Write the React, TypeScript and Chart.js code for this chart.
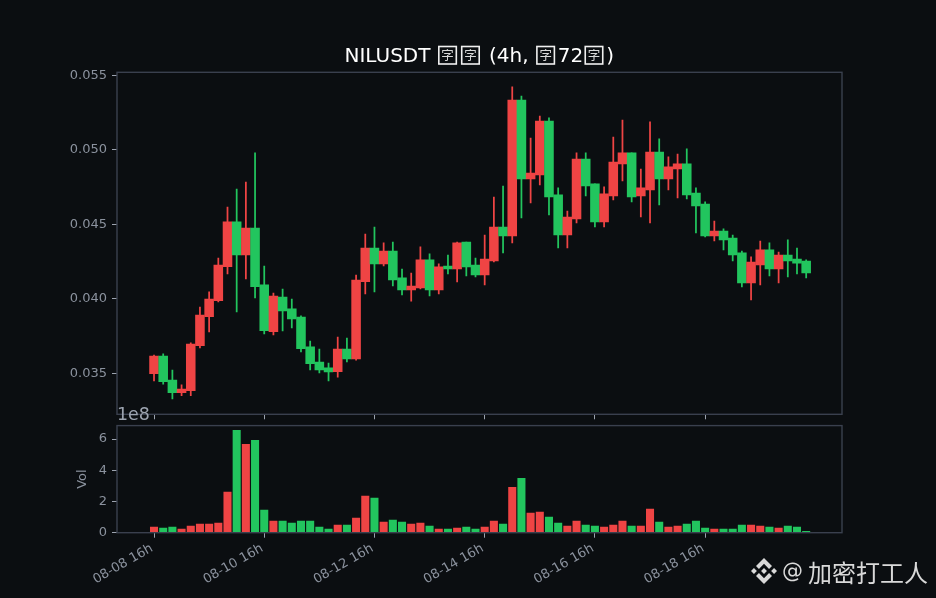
import React, { useEffect, useRef } from "react";
import { Chart, registerables } from "chart.js";

Chart.register(...registerables);

const opens = [0.03498,0.03616,0.03455,0.0337,0.03384,0.03686,0.0388,0.03988,0.04216,0.04516,0.04294,0.04475,0.04093,0.0378,0.04012,0.03932,0.03878,0.03677,0.03576,0.03536,0.03511,0.03663,0.03596,0.04115,0.04341,0.04234,0.04321,0.0414,0.04059,0.04073,0.04261,0.04059,0.0422,0.042,0.04381,0.04227,0.0416,0.04254,0.04482,0.04422,0.05334,0.04804,0.04831,0.05193,0.04697,0.04428,0.04536,0.04938,0.04771,0.04516,0.0469,0.04905,0.04979,0.0469,0.0473,0.04985,0.04804,0.04871,0.04905,0.0471,0.04636,0.04422,0.04455,0.04408,0.04308,0.04106,0.04227,0.04328,0.042,0.04294,0.04267,0.04254];
const closes = [0.03616,0.03444,0.0337,0.03395,0.03697,0.03891,0.03999,0.04227,0.04516,0.04294,0.04475,0.04082,0.03786,0.04019,0.03918,0.03865,0.03666,0.03565,0.03522,0.03509,0.03663,0.03596,0.04126,0.04341,0.04234,0.04321,0.04126,0.04059,0.04086,0.04261,0.04059,0.04214,0.042,0.04375,0.04214,0.0416,0.04267,0.04482,0.04422,0.05334,0.04804,0.04844,0.05193,0.04683,0.04428,0.04549,0.04938,0.04757,0.04516,0.04704,0.04918,0.04979,0.04683,0.04744,0.04985,0.04804,0.04885,0.04905,0.04697,0.04623,0.04422,0.04455,0.04395,0.04294,0.04106,0.04247,0.04328,0.042,0.04294,0.04254,0.0424,0.04173];
const highs = [0.03623,0.0363,0.03522,0.03422,0.03704,0.03945,0.04046,0.04274,0.04616,0.04737,0.04784,0.04979,0.0422,0.04039,0.04066,0.03999,0.03885,0.03717,0.03663,0.03569,0.03744,0.03737,0.0416,0.04435,0.04482,0.04375,0.04381,0.042,0.04173,0.04348,0.04301,0.04234,0.04294,0.04381,0.04381,0.04274,0.04428,0.04683,0.04757,0.05422,0.05361,0.05079,0.05227,0.05214,0.04744,0.04589,0.04979,0.04979,0.04771,0.04751,0.05086,0.052,0.04979,0.04871,0.05187,0.05073,0.04952,0.04972,0.05006,0.04744,0.0465,0.04522,0.04469,0.04428,0.04321,0.04281,0.04388,0.04375,0.04314,0.04395,0.04341,0.04261];
const lows = [0.03449,0.03428,0.03328,0.0335,0.0335,0.0367,0.03777,0.03979,0.04167,0.03912,0.04133,0.04006,0.03764,0.03757,0.03784,0.03804,0.03643,0.03522,0.03502,0.03449,0.03475,0.03576,0.03589,0.04032,0.04046,0.0422,0.04086,0.04026,0.03985,0.04066,0.04019,0.04032,0.04167,0.04113,0.04153,0.04147,0.04093,0.04247,0.04308,0.04375,0.04542,0.04643,0.04764,0.04563,0.04341,0.04341,0.04509,0.0469,0.04482,0.04482,0.04663,0.04791,0.0465,0.04549,0.04509,0.0463,0.0473,0.04677,0.0467,0.04442,0.04415,0.04388,0.04328,0.04254,0.04079,0.03992,0.04093,0.04153,0.04106,0.04147,0.04167,0.0414];
const volumesE8 = [0.36,0.3,0.36,0.23,0.43,0.55,0.55,0.62,2.6,6.55,5.66,5.91,1.45,0.74,0.74,0.62,0.74,0.74,0.36,0.23,0.49,0.49,0.94,2.34,2.21,0.68,0.81,0.68,0.55,0.62,0.43,0.23,0.23,0.3,0.36,0.23,0.36,0.74,0.55,2.91,3.49,1.26,1.32,1.0,0.62,0.43,0.74,0.49,0.43,0.36,0.49,0.74,0.43,0.43,1.51,0.68,0.36,0.43,0.55,0.74,0.3,0.23,0.23,0.23,0.49,0.49,0.43,0.36,0.3,0.43,0.36,0.08];
const tickIndex = [0, 12, 24, 36, 48, 60];
const tickLabels = ["08-08 16h", "08-10 16h", "08-12 16h", "08-14 16h", "08-16 16h", "08-18 16h"];
const priceTicks = [0.035, 0.04, 0.045, 0.05, 0.055];
const volumeTicks = [0, 2, 4, 6];

const BG = "#0b0e11";
const UP = "#ef4444";
const DOWN = "#22c55e";
const SPINE = "#3a404e";
const TICK = "#9ca3af";
const LABEL = "#8b929e";
const FONT = '"DejaVu Sans"';
const TICK_SIZE = 13;

const X_MIN = -4.03;
const X_MAX = 74.9;

const frame = {
  id: "frame",
  afterDatasetsDraw(chart: any) {
    const { left, top, right, bottom } = chart.chartArea;
    const c = chart.ctx;
    c.save();
    c.strokeStyle = SPINE;
    c.lineWidth = 1.4;
    c.strokeRect(left, top, right - left, bottom - top);
    c.restore();
  },
};

const titleParts: [string, boolean][] = [
  ["NILUSDT ", false],
  ["字", true],
  ["字", true],
  [" (4h, ", false],
  ["字", true],
  ["72", false],
  ["字", true],
  [")", false],
];

const titlePlugin = {
  id: "boxedTitle",
  afterDraw(chart: any) {
    const c = chart.ctx;
    c.save();
    c.textBaseline = "alphabetic";
    c.textAlign = "left";
    c.fillStyle = "#ffffff";
    c.strokeStyle = "#f0f0f0";
    let x = 344.5;
    const base = 61.5;
    for (const [text, boxed] of titleParts) {
      if (boxed) {
        c.lineWidth = 1.6;
        c.strokeRect(x + 2, 46.5, 17.5, 17.5);
        c.font = '12.5px "Noto Sans CJK SC"';
        c.fillStyle = "#d8d8d8";
        c.fillText(text, x + 4.5, 59.7);
        c.fillStyle = "#ffffff";
        x += 22.9;
      } else {
        c.font = `20px ${FONT}`;
        c.fillText(text, x, base);
        x += c.measureText(text).width;
      }
    }
    c.restore();
  },
};

const offsetPlugin = {
  id: "offsetText",
  afterDraw(chart: any) {
    const c = chart.ctx;
    c.save();
    c.font = `17.4px ${FONT}`;
    c.fillStyle = TICK;
    c.textAlign = "left";
    c.textBaseline = "alphabetic";
    c.fillText("1e8", 117, 420);
    c.restore();
  },
};

const xAxis = (showLabels: boolean) => ({
  type: "linear",
  min: X_MIN,
  max: X_MAX,
  offset: false,
  afterBuildTicks: (s: any) => {
    s.ticks = tickIndex.map((value) => ({ value }));
  },
  afterFit: (s: any) => {
    if (!showLabels) s.height = 10;
  },
  grid: { drawOnChartArea: false, drawTicks: true, tickLength: 5, tickColor: TICK, tickWidth: 1, offset: false },
  border: { display: false },
  ticks: {
    display: showLabels,
    autoSkip: false,
    minRotation: 30,
    maxRotation: 30,
    padding: 3,
    labelOffset: -2,
    color: LABEL,
    font: { family: FONT, size: TICK_SIZE },
    callback: (v: number) => tickLabels[tickIndex.indexOf(v)] ?? "",
  },
});

const yAxis = (min: number, max: number, values: number[], fmt: (v: number) => string, title?: string) => ({
  min,
  max,
  afterBuildTicks: (s: any) => {
    s.ticks = values.map((value) => ({ value }));
  },
  afterFit: (s: any) => {
    s.width = title ? 42 : 50;
  },
  grid: { drawOnChartArea: false, drawTicks: true, tickLength: 5, tickColor: TICK, tickWidth: 1 },
  border: { display: false },
  title: title
    ? { display: true, text: title, color: LABEL, padding: 0, font: { family: FONT, size: TICK_SIZE } }
    : { display: false },
  ticks: {
    color: LABEL,
    padding: 5,
    font: { family: FONT, size: TICK_SIZE },
    callback: (v: number) => fmt(v),
  },
});

const candleColor = opens.map((o, i) => (closes[i] >= o ? UP : DOWN));

export default function App() {
  const priceRef = useRef<HTMLCanvasElement>(null);
  const volRef = useRef<HTMLCanvasElement>(null);

  useEffect(() => {
    const price = new Chart(priceRef.current as any, {
      type: "bar",
      data: {
        datasets: [
          {
            label: "High-Low",
            data: highs.map((h, i) => ({ x: i, y: [lows[i], h] })),
            backgroundColor: candleColor,
            barThickness: 1.1,
            grouped: false,
            order: 2,
          },
          {
            label: "Open-Close",
            data: opens.map((o, i) => ({ x: i, y: [o, closes[i]] })),
            backgroundColor: candleColor,
            barThickness: 8.9,
            grouped: false,
            order: 1,
          },
        ] as any,
      },
      options: {
        animation: false,
        responsive: false,
        devicePixelRatio: 1,
        layout: { padding: { left: 67, right: 94, top: 72.3, bottom: 173.7 } },
        plugins: { legend: { display: false }, tooltip: { enabled: false }, title: { display: false } },
        scales: {
          x: xAxis(false),
          y: yAxis(0.03225, 0.0552, priceTicks, (v) => v.toFixed(3)),
        },
      } as any,
      plugins: [frame, titlePlugin],
    });

    const vol = new Chart(volRef.current as any, {
      type: "bar",
      data: {
        datasets: [
          {
            label: "Vol",
            data: volumesE8.map((v, i) => ({ x: i, y: v })),
            backgroundColor: candleColor,
            barThickness: 7.4,
          },
        ] as any,
      },
      options: {
        animation: false,
        responsive: false,
        devicePixelRatio: 1,
        layout: { padding: { left: 75, right: 94, top: 425.6, bottom: 0 } },
        plugins: { legend: { display: false }, tooltip: { enabled: false }, title: { display: false } },
        scales: {
          x: {
            ...xAxis(true),
            afterFit: (s: any) => {
              s.height = 598 - 532.7;
            },
          },
          y: yAxis(0, 6.86, volumeTicks, (v) => String(v), "Vol"),
        },
      } as any,
      plugins: [frame, offsetPlugin],
    });

    return () => {
      price.destroy();
      vol.destroy();
    };
  }, []);

  const layer: React.CSSProperties = { position: "absolute", left: 0, top: 0, width: 936, height: 598 };

  return (
    <div style={{ position: "fixed", left: 0, top: 0, width: 936, height: 598, background: BG, overflow: "hidden" }}>
      <canvas ref={priceRef} width={936} height={598} style={layer} />
      <canvas ref={volRef} width={936} height={598} style={layer} />
      <div
        style={{
          position: "absolute",
          left: 751,
          top: 552,
          height: 38,
          display: "flex",
          alignItems: "center",
          color: "#d9d9d9",
          whiteSpace: "nowrap",
        }}
      >
        <svg width="26" height="26" viewBox="0 0 126.6 126.6" style={{ marginRight: 5 }}>
          <g fill="#d9d9d9">
            <polygon points="38.7,53.2 63.3,28.6 87.9,53.2 102.2,38.9 63.3,0 24.4,38.9" />
            <polygon points="38.7,73.4 63.3,98 87.9,73.4 102.2,87.7 63.3,126.6 24.4,87.7" />
            <polygon points="0,63.3 14.3,49 28.6,63.3 14.3,77.6" />
            <polygon points="98,63.3 112.3,49 126.6,63.3 112.3,77.6" />
            <polygon points="63.3,49 77.6,63.3 63.3,77.6 49,63.3" />
          </g>
        </svg>
        <span style={{ font: `21px ${FONT}`, marginRight: 5 }}>@</span>
        <span style={{ font: '24px "Noto Sans CJK SC"' }}>加密打工人</span>
      </div>
    </div>
  );
}
